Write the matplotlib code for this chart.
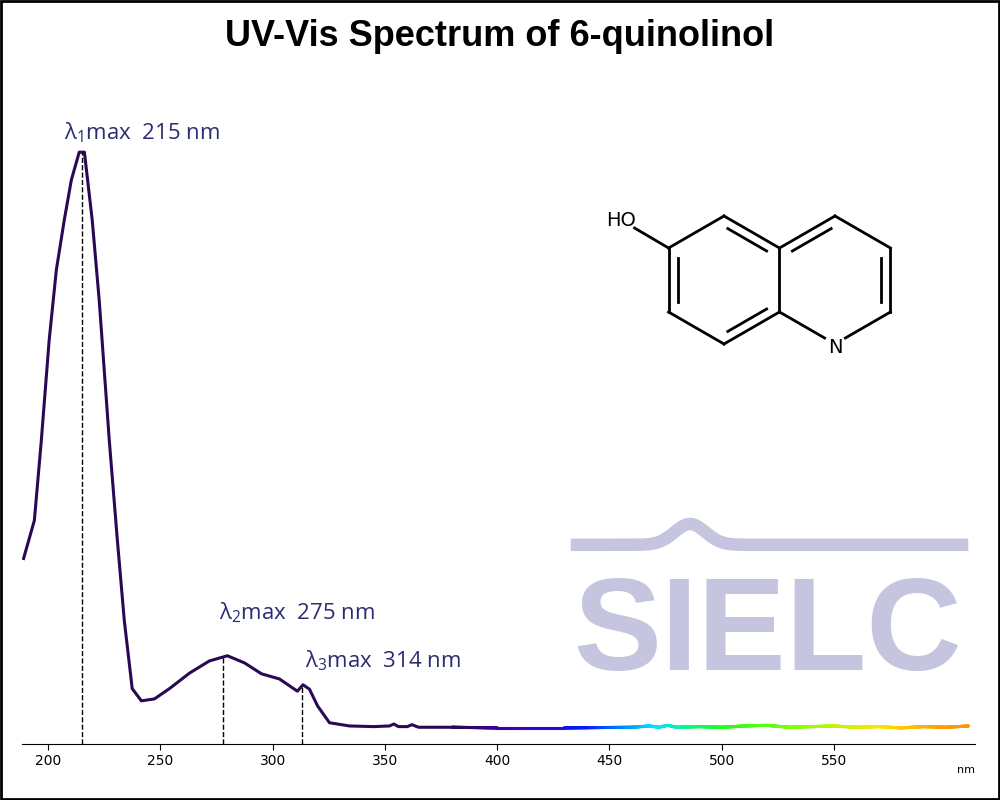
import numpy as np
import matplotlib
matplotlib.use("Agg")
import matplotlib.pyplot as plt
from matplotlib.collections import LineCollection
from matplotlib.patches import Rectangle

wl = [189, 193.8, 196.9, 200.4, 203.6, 207.1, 210.3, 213.8, 216.1, 219.6, 222.7, 227.2,
      230.8, 233.9, 237.4, 241.5, 247.3, 254, 262.9, 271.8, 279.8, 287.4, 295, 303,
      311, 313.5, 316.4, 320, 325.3, 334.2, 345, 352, 354, 356, 360, 362, 365, 380,
      400, 430, 460, 468, 472, 476, 480, 490, 500, 510, 520, 530, 540, 550, 560,
      570, 580, 590, 600, 610]
ab = [0.288, 0.347, 0.471, 0.627, 0.736, 0.813, 0.876, 0.919, 0.919, 0.813, 0.689, 0.471,
      0.316, 0.191, 0.086, 0.067, 0.070, 0.086, 0.110, 0.129, 0.137, 0.126, 0.109, 0.101,
      0.082, 0.092, 0.085, 0.059, 0.033, 0.028, 0.027, 0.028, 0.031, 0.027, 0.027, 0.030,
      0.026, 0.026, 0.025, 0.025, 0.026, 0.028, 0.026, 0.029, 0.026, 0.027, 0.026, 0.028,
      0.029, 0.026, 0.027, 0.028, 0.026, 0.027, 0.025, 0.027, 0.026, 0.028]
peaks = [215, 278, 313]
peak_labels = ["λ$\\mathregular{_1}$max  215 nm", "λ$\\mathregular{_2}$max  275 nm",
               "λ$\\mathregular{_3}$max  314 nm"]
xticks = [200, 250, 300, 350, 400, 450, 500, 550]

def wl_color(w):
    stops = [(0, (0.17, 0.03, 0.33)), (385, (0.17, 0.03, 0.33)), (410, (0.25, 0.0, 0.8)),
             (440, (0.0, 0.1, 1.0)), (470, (0.0, 0.9, 1.0)), (500, (0.1, 1.0, 0.1)),
             (540, (0.6, 1.0, 0.0)), (570, (1.0, 0.9, 0.0)), (600, (1.0, 0.6, 0.0)),
             (700, (1.0, 0.5, 0.0))]
    for (a, ca), (b, cb) in zip(stops[:-1], stops[1:]):
        if a <= w <= b:
            t = (w - a) / (b - a)
            return tuple(ca[i] + t * (cb[i] - ca[i]) for i in range(3))
    return stops[-1][1]

fig = plt.figure(figsize=(10, 8), dpi=100)
fig.patches.append(Rectangle((0.001, 0.001), 0.998, 0.998, transform=fig.transFigure,
                             fill=False, lw=2, ec="black"))
ax = fig.add_axes([0.022, 0.07, 0.953, 0.805])
ax.set_xlim(188.3, 612.9)
ax.set_ylim(0, 1)
x = np.array(wl); y = np.array(ab)
m = x <= 392
ax.plot(x[m], y[m], color=(0.17, 0.03, 0.33), lw=2.2, solid_joinstyle="round")
xf = np.linspace(380, x[-1], 1500)
yf = np.interp(xf, x, y)
pts = np.column_stack([xf, yf]).reshape(-1, 1, 2)
segs = np.concatenate([pts[:-1], pts[1:]], axis=1)
lc = LineCollection(segs, colors=[wl_color(v) for v in xf[:-1]], linewidths=2.2,
                    capstyle="round")
ax.add_collection(lc)

txt_c = "#2c2c70"
pos = [(207, 0.93), (276, 0.185), (314.5, 0.11)]
for p, lab, (tx, ty) in zip(peaks, peak_labels, pos):
    h = np.interp(p, x, y)
    ax.plot([p, p], [0, h], ls="--", color="black", lw=1)
    ax.text(tx, ty, lab, color=txt_c, fontsize=16, ha="left", va="bottom",
            fontfamily="Open Sans")

for s in ["top", "right", "left"]:
    ax.spines[s].set_visible(False)
ax.set_yticks([])
ax.set_xticks(xticks)
ax.tick_params(axis="x", labelsize=10, length=4)
ax.text(1.0, -0.04, "nm", transform=ax.transAxes, fontsize=8, ha="right", va="center")

fig.text(0.5, 0.955, "UV-Vis Spectrum of 6-quinolinol", ha="center", va="center",
         fontsize=26, fontweight="bold", family="Liberation Sans")

# SIELC logo
lc_col = "#c5c5e0"
fig.text(0.768, 0.206, "SIELC", ha="center", va="center", fontsize=95, fontweight="bold",
         color=lc_col, family="Liberation Sans")
t = np.linspace(0, 1, 200)
lx = 0.577 + t * (0.962 - 0.577)
bump = 0.026 * np.exp(-((lx - 0.69) / 0.022) ** 2)
fig.add_artist(plt.Line2D(lx, 0.319 + bump, transform=fig.transFigure, color=lc_col, lw=9))

def P(px, py):
    return (px / 1000, 1 - py / 800)
def line(a, b):
    fig.add_artist(plt.Line2D([a[0], b[0]], [a[1], b[1]], transform=fig.transFigure,
                              color="black", lw=2))
r = 64
cxL, cxR, cy = 724, 835, 280
def hexpts(cx):
    return [(cx + r * np.cos(np.radians(a)), cy - r * np.sin(np.radians(a)))
            for a in [90, 30, -30, -90, -150, 150]]
L = hexpts(cxL); R = hexpts(cxR)
for i in range(6):
    line(P(*L[i]), P(*L[(i + 1) % 6]))
for i in [5, 0, 1]:
    line(P(*R[i]), P(*R[(i + 1) % 6]))
N = R[3]
def toward(a, b, d):
    v = np.array(b) - np.array(a); v = v / np.hypot(*v)
    return tuple(np.array(a) + v * d)
line(P(*R[2]), P(*toward(N, R[2], 12)))
line(P(*toward(N, R[4], 12)), P(*R[4]))
fig.text(N[0] / 1000, 1 - (N[1] + 3) / 800, "N", ha="center", va="center", fontsize=14)
def inner(a, b, c, s=9):
    ax_, ay_ = a; bx_, by_ = b
    dx, dy = c[0] - (ax_ + bx_) / 2, c[1] - (ay_ + by_) / 2
    n = np.hypot(dx, dy); dx, dy = dx / n * s, dy / n * s
    sh = 0.15
    a2 = (ax_ + (bx_ - ax_) * sh + dx, ay_ + (by_ - ay_) * sh + dy)
    b2 = (bx_ - (bx_ - ax_) * sh + dx, by_ - (by_ - ay_) * sh + dy)
    line(P(*a2), P(*b2))
inner(L[0], L[1], (cxL, cy)); inner(L[2], L[3], (cxL, cy)); inner(L[4], L[5], (cxL, cy))
inner(R[5], R[0], (cxR, cy)); inner(R[1], R[2], (cxR, cy))
oh_end = (L[5][0] - 40, L[5][1] - 24)
line(P(*L[5]), P(oh_end[0] + 6, oh_end[1] + 4))
fig.text((oh_end[0] - 8) / 1000, 1 - (oh_end[1] - 4) / 800, "HO", ha="center", va="center",
         fontsize=14)

fig.savefig("out.png", dpi=100)
